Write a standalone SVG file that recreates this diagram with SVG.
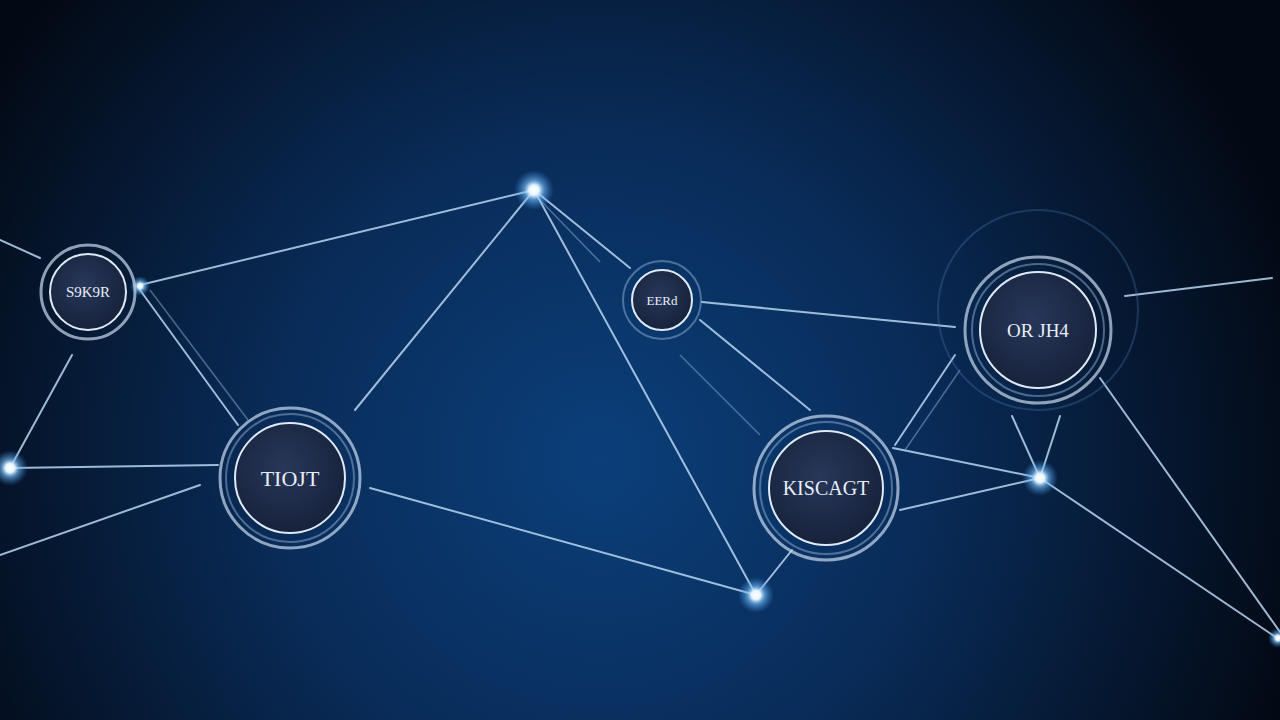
<svg xmlns="http://www.w3.org/2000/svg" width="1280" height="720" viewBox="0 0 1280 720">
<defs>
<radialGradient id="bg" cx="600" cy="460" r="720" gradientUnits="userSpaceOnUse">
<stop offset="0" stop-color="#0b3f7a"/>
<stop offset="0.45" stop-color="#092c59"/>
<stop offset="1" stop-color="#030914"/>
</radialGradient>
<radialGradient id="glow">
<stop offset="0" stop-color="#ffffff"/>
<stop offset="0.25" stop-color="#e8f6ff"/>
<stop offset="0.5" stop-color="#7cc4ff" stop-opacity="0.6"/>
<stop offset="1" stop-color="#3a8fe0" stop-opacity="0"/>
</radialGradient>
<radialGradient id="disc" cx="0.45" cy="0.4" r="0.7">
<stop offset="0" stop-color="#28375a"/>
<stop offset="1" stop-color="#141f36"/>
</radialGradient>
<style>
.ln{stroke:#b9d6f2;stroke-width:2;fill:none;stroke-linecap:round;opacity:0.85}
.lf{stroke:#9cc0e6;stroke-width:1.5;fill:none;opacity:0.45}
.ring{fill:none;stroke:#c9dcef;stroke-width:3;opacity:0.7}
.ring2{fill:none;stroke:#8fb0d2;stroke-width:2;opacity:0.5}
.inner{fill:url(#disc);stroke:#dfeaf6;stroke-width:2}
.lbl{font-family:"Liberation Serif","DejaVu Serif",serif;fill:#e6eef8;text-anchor:middle;dominant-baseline:central}
</style>
</defs>
<rect width="1280" height="720" fill="url(#bg)"/>
<g id="connectors">
<line class="ln" x1="0" y1="240" x2="40" y2="258"/>
<line class="ln" x1="140" y1="285" x2="534" y2="190"/>
<line class="ln" x1="534" y1="190" x2="355" y2="410"/>
<line class="ln" x1="534" y1="190" x2="630" y2="268"/>
<line class="lf" x1="540" y1="200" x2="600" y2="262"/>
<line class="ln" x1="534" y1="190" x2="756" y2="595"/>
<line class="ln" x1="140" y1="290" x2="238" y2="425"/>
<line class="lf" x1="150" y1="290" x2="248" y2="420"/>
<line class="ln" x1="72" y1="355" x2="10" y2="468"/>
<line class="ln" x1="10" y1="468" x2="218" y2="465"/>
<line class="ln" x1="0" y1="555" x2="200" y2="485"/>
<line class="ln" x1="370" y1="488" x2="756" y2="595"/>
<line class="ln" x1="702" y1="302" x2="955" y2="327"/>
<line class="ln" x1="700" y1="320" x2="810" y2="410"/>
<line class="lf" x1="680" y1="355" x2="760" y2="435"/>
<line class="ln" x1="756" y1="595" x2="792" y2="550"/>
<line class="ln" x1="893" y1="448" x2="1040" y2="478"/>
<line class="ln" x1="900" y1="510" x2="1040" y2="478"/>
<line class="ln" x1="1040" y1="478" x2="1280" y2="640"/>
<line class="ln" x1="1100" y1="378" x2="1280" y2="632"/>
<line class="ln" x1="1125" y1="296" x2="1272" y2="278"/>
<line class="ln" x1="1040" y1="478" x2="1012" y2="416"/>
<line class="ln" x1="1040" y1="478" x2="1060" y2="416"/>
<line class="ln" x1="895" y1="445" x2="955" y2="355"/>
<line class="lf" x1="905" y1="450" x2="960" y2="370"/>
</g>
<g id="glows">
<circle cx="534" cy="190" r="20" fill="url(#glow)"/>
<circle cx="756" cy="595" r="18" fill="url(#glow)"/>
<circle cx="1040" cy="478" r="18" fill="url(#glow)"/>
<circle cx="10" cy="468" r="18" fill="url(#glow)"/>
<circle cx="140" cy="286" r="10" fill="url(#glow)"/>
<circle cx="1278" cy="638" r="10" fill="url(#glow)"/>
</g>
<g id="node-s9k3r">
<circle class="ring" cx="88" cy="292" r="47"/>
<circle class="inner" cx="88" cy="292" r="38"/>
<text class="lbl" x="88" y="292" font-size="15">S9K9R</text>
</g>
<g id="node-tiojt">
<circle class="ring" cx="290" cy="478" r="70"/>
<circle class="ring2" cx="290" cy="478" r="64"/>
<circle class="inner" cx="290" cy="478" r="55"/>
<text class="lbl" x="290" y="478" font-size="22">TIOJT</text>
</g>
<g id="node-eerd">
<circle class="ring2" cx="662" cy="300" r="39"/>
<circle class="inner" cx="662" cy="300" r="30"/>
<text class="lbl" x="662" y="300" font-size="13">EERd</text>
</g>
<g id="node-kiscagt">
<circle class="ring" cx="826" cy="488" r="72"/>
<circle class="ring2" cx="826" cy="488" r="66"/>
<circle class="inner" cx="826" cy="488" r="57"/>
<text class="lbl" x="826" y="488" font-size="20">KISCAGT</text>
</g>
<g id="node-orjh4">
<circle cx="1038" cy="310" r="100" fill="none" stroke="#4f7fb5" stroke-width="2" opacity="0.3"/>
<circle class="ring" cx="1038" cy="330" r="73"/>
<circle class="ring2" cx="1038" cy="330" r="66"/>
<circle class="inner" cx="1038" cy="330" r="58"/>
<text class="lbl" x="1038" y="330" font-size="19">OR JH4</text>
</g>
</svg>
